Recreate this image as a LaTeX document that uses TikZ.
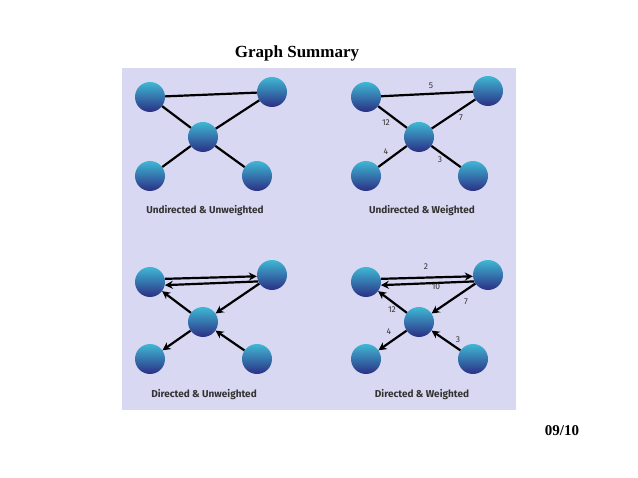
\documentclass[tikz,border=0pt]{standalone}
\usepackage{fontspec}
\setmainfont{Liberation Serif}
\newfontfamily\lblfont{Fira Sans}
\usetikzlibrary{arrows.meta}
\definecolor{panel}{HTML}{D8D8F2}
\definecolor{balltop}{HTML}{3FB8D4}
\definecolor{ballbot}{HTML}{2B2F84}
\tikzset{
  ball/.style={circle,minimum size=30pt,inner sep=0pt,top color=balltop,bottom color=ballbot,draw=none},
  edge/.style={line width=2.2pt,black},
  arr/.style={edge,-{Stealth[length=8pt,width=8pt]}},
  wt/.style={font=\lblfont\fontsize{8.5}{9}\selectfont,text=black!80,inner sep=1pt},
  captxt/.style={font=\lblfont\fontsize{10}{11}\selectfont\bfseries,text=black!80}
}
\begin{document}
\begin{tikzpicture}[x=1pt,y=-1pt]
\useasboundingbox (0,0) rectangle (638,478);
\fill[white] (0,0) rectangle (638,478);
\fill[panel] (122,68) rectangle (516,410);
\node[font=\bfseries\fontsize{17}{17}\selectfont] (title) at (297,53) {Graph Summary};
\node[font=\bfseries\fontsize{15}{15}\selectfont] (page) at (562,431) {09/10};
\foreach \p/\dx/\ya/\yb/\yc/\yd in {a/0/97/92/137/176,b/216/97/91/137/176,c/0/282/275/322/359,d/216/282/275/322/359}{
  \node[ball] (TL\p) at (150+\dx,\ya) {};
  \node[ball] (TR\p) at (272+\dx,\yb) {};
  \node[ball] (C\p) at (203+\dx,\yc) {};
  \node[ball] (BL\p) at (150+\dx,\yd) {};
  \node[ball] (BR\p) at (257+\dx,\yd) {};
}
\foreach \p in {a,b}{
  \draw[edge] (TL\p) -- (TR\p);
  \draw[edge] (TL\p) -- (C\p);
  \draw[edge] (TR\p) -- (C\p);
  \draw[edge] (C\p) -- (BL\p);
  \draw[edge] (C\p) -- (BR\p);
}
\foreach \p in {c,d}{
  \draw[arr] (TL\p.12) -- (TR\p.185);
  \draw[arr] (TR\p.205) -- (TL\p.-12);
  \draw[arr] (C\p) -- (TL\p);
  \draw[arr] (TR\p) -- (C\p);
  \draw[arr] (C\p) -- (BL\p);
  \draw[arr] (BR\p) -- (C\p);
}
\node[wt] (w1) at (431,86) {5};
\node[wt] (w2) at (386,123) {12};
\node[wt] (w3) at (461,118) {7};
\node[wt] (w4) at (386,152) {4};
\node[wt] (w5) at (440,160) {3};
\node[wt] (w6) at (426,267) {2};
\node[wt] (w7) at (436,287) {10};
\node[wt] (w8) at (392,310) {12};
\node[wt] (w9) at (466,302) {7};
\node[wt] (w10) at (389,332) {4};
\node[wt] (w11) at (458,340) {3};
\node[captxt] (l1) at (205,211) {Undirected \& Unweighted};
\node[captxt] (l2) at (422,211) {Undirected \& Weighted};
\node[captxt] (l3) at (204,395) {Directed \& Unweighted};
\node[captxt] (l4) at (422,395) {Directed \& Weighted};
\end{tikzpicture}
\end{document}
